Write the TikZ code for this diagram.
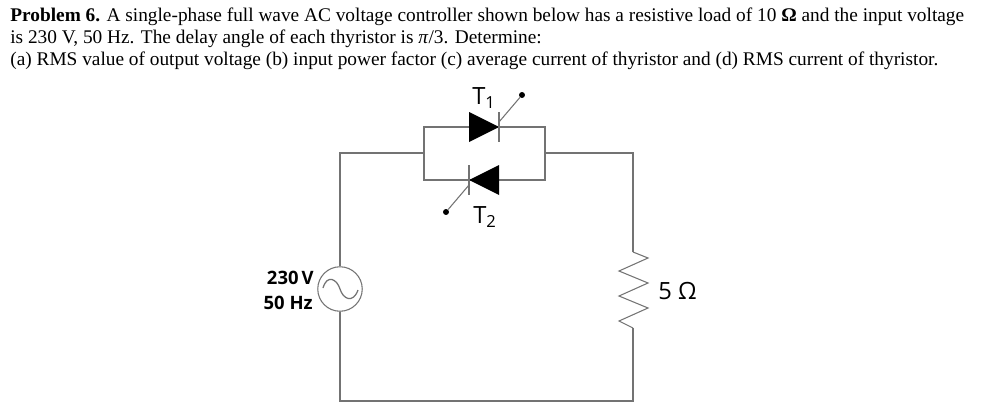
\documentclass[tikz,border=0pt]{standalone}
\usepackage{fontspec}
\setmainfont{Liberation Serif}
\newfontfamily\labelfont{Open Sans}
\definecolor{wirecol}{gray}{0.45}
\tikzset{
    problem/.style={anchor=base west, inner sep=0pt, font=\fontsize{11pt}{13pt}\selectfont},
    wire/.style={draw=wirecol, line width=0.6pt},
    solid tri/.style={fill=black, draw=none},
    tag/.style={inner sep=0pt, font=\labelfont\fontsize{13.5pt}{15pt}\selectfont},
    boldtag/.style={inner sep=0pt, anchor=base east, font=\labelfont\bfseries\fontsize{10.5pt}{12pt}\selectfont},
    gatedot/.style={circle, fill=black, inner sep=0pt, minimum size=3.4pt}
}
\begin{document}
\begin{tikzpicture}[x=0.02cm,y=-0.02cm]
    \useasboundingbox (0,0) rectangle (996,419);
    % statement
    \node [problem] (line1) at (10,21) {\textbf{Problem 6.} A single-phase full wave AC voltage controller shown below has a resistive load of 10 \textbf{Ω} and the input voltage};
    \node [problem] (line2) at (10,43) {is 230 V, 50 Hz. The delay angle of each thyristor is \textit{π}/3. Determine:};
    \node [problem] (line3) at (10,65) {(a) RMS value of output voltage (b) input power factor (c) average current of thyristor and (d) RMS current of thyristor.};
    % corners
    \coordinate (tl) at (340,153);
    \coordinate (tr) at (633,153);
    \coordinate (bl) at (340,401);
    \coordinate (br) at (633,401);
    \coordinate (jl) at (424,153);
    \coordinate (jr) at (545,153);
    \coordinate (rtop) at (633,252);
    \coordinate (rbot) at (633,328);
    % source
    \node [circle, wire, fill=white, minimum size=0.89cm, inner sep=0pt] (src) at (340,289) {};
    \draw [wire] (src.north) -- (tl) -- (jl);
    \draw [wire] (src.south) -- (bl) -- (br) -- (rbot);
    \draw [wire] (jr) -- (tr) -- (rtop);
    \draw [wire, line width=0.7pt] (323,288) .. controls (327,274) and (337,279) .. (340,289)
        .. controls (343,299) and (353,304) .. (358,290);
    \node [boldtag] (volt) at (314,284) {230\,V};
    \node [boldtag] (freq) at (313,309) {50 Hz};
    % resistor
    \draw [wire] (rtop) -- (648,258) -- (619,271) -- (648,283) -- (619,296) -- (648,308) -- (619,321) -- (rbot);
    \node [tag, anchor=base west] (load) at (658,299) {5 Ω};
    % thyristors
    \coordinate (a1) at (424,127);
    \coordinate (k1) at (545,127);
    \coordinate (a2) at (545,180);
    \coordinate (k2) at (424,180);
    \draw [wire] (jl) -- (a1) -- (k1) -- (jr);
    \draw [wire] (jl) -- (k2) -- (a2) -- (jr);
    \fill [solid tri] (469,112) -- (499,127) -- (469,142) -- cycle;
    \draw [wire] (499,112) -- (499,142);
    \fill [solid tri] (499,165) -- (469,180) -- (499,195) -- cycle;
    \draw [wire] (469,165) -- (469,195);
    \node [gatedot] (g1) at (522,95) {};
    \node [gatedot] (g2) at (446,212) {};
    \coordinate (g1in) at (499,122);
    \coordinate (g2in) at (469,185);
    \draw [wire] (g1in) -- (g1);
    \draw [wire] (g2in) -- (g2);
    \node [tag] (t1) at (484,98) {T\textsubscript{1}};
    \node [tag] (t2) at (485,217) {T\textsubscript{2}};
\end{tikzpicture}
\end{document}
